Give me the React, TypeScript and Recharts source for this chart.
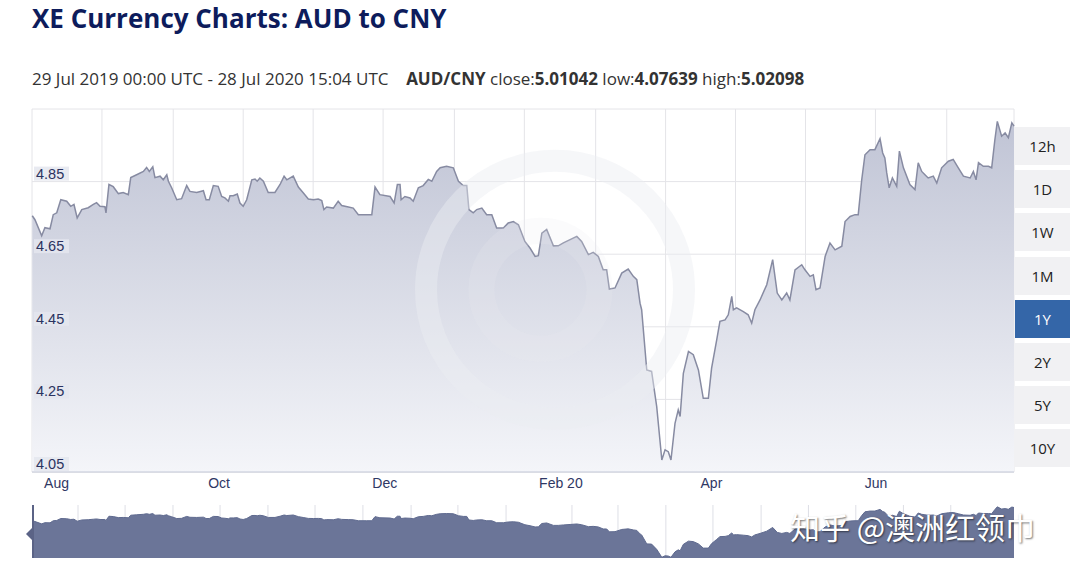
import React from 'react';
import { AreaChart, Area, XAxis, YAxis, CartesianGrid, ReferenceDot } from 'recharts';

// days since 29 Jul 2019
const dayOffsets = [
  0.1, 1.1, 3.6, 4.8, 6.7, 7.9, 9.2, 10.7, 12.9, 14.4, 15.6, 16.8, 18.5, 20.9, 22.8, 24.0, 25.3, 27.1, 27.5, 28.6,
  30.2, 32.1, 33.9, 35.8, 36.7, 38.9, 41.4, 42.6, 43.6, 44.9, 45.7, 47.6, 48.8, 50.1, 50.7, 51.9, 53.8, 55.6, 57.5, 58.7,
  61.2, 63.7, 64.7, 65.9, 67.4, 69.2, 70.5, 71.7, 73.0, 73.6, 74.8, 76.3, 77.3, 78.5, 79.8, 81.7, 82.9, 83.7, 84.7, 86.0,
  87.8, 90.3, 92.2, 93.7, 94.7, 97.1, 99.0, 100.8, 102.7, 104.6, 106.4, 107.7, 108.5, 109.5, 112.0, 113.8, 115.1, 117.6, 119.4, 121.3,
  124.4, 126.3, 127.5, 129.3, 133.1, 134.6, 135.8, 136.8, 137.2, 138.6, 140.5, 141.7, 143.6, 145.4, 147.3, 148.6, 150.4, 151.7, 154.1, 156.6,
  158.5, 160.3, 161.6, 162.4, 164.0, 165.3, 167.2, 169.0, 170.9, 172.7, 175.2, 177.0, 178.9, 180.8, 183.2, 185.1, 187.0, 188.2, 189.5, 191.3,
  193.8, 195.6, 197.5, 200.0, 202.5, 204.3, 206.8, 208.6, 210.5, 212.3, 213.6, 214.6, 216.7, 219.2, 221.6, 223.5, 224.8, 226.0, 226.6, 228.5,
  230.3, 232.2, 234.1, 235.3, 236.5, 237.5, 239.0, 240.2, 240.9, 242.1, 244.0, 245.8, 247.7, 249.5, 251.4, 252.6, 254.5, 255.7, 257.6, 258.8,
  260.1, 260.7, 261.9, 264.4, 266.2, 267.5, 268.7, 270.6, 273.1, 275.3, 277.0, 278.7, 280.5, 281.7, 283.6, 286.1, 287.3, 289.2, 290.4, 291.4,
  292.9, 294.8, 296.6, 298.5, 301.0, 302.2, 304.1, 305.9, 307.1, 308.4, 309.6, 311.5, 313.3, 315.2, 316.2, 317.0, 317.7, 318.6, 319.8, 321.4,
  322.4, 323.9, 326.3, 328.2, 329.4, 330.7, 331.9, 333.1, 335.0, 336.3, 338.1, 340.6, 342.4, 344.3, 346.2, 348.7, 349.9, 350.9, 351.8, 353.6,
  355.5, 356.7, 357.9, 358.8, 360.4, 361.7, 362.9, 364.2, 365.0,
];

const audCny = [
  4.756, 4.745, 4.701, 4.723, 4.720, 4.759, 4.764, 4.800, 4.796, 4.782, 4.787, 4.750, 4.773, 4.778, 4.787, 4.792, 4.782, 4.781, 4.764, 4.842,
  4.836, 4.817, 4.820, 4.814, 4.861, 4.869, 4.878, 4.889, 4.878, 4.891, 4.861, 4.865, 4.855, 4.869, 4.851, 4.833, 4.800, 4.803, 4.839, 4.823,
  4.820, 4.825, 4.800, 4.800, 4.839, 4.837, 4.809, 4.805, 4.796, 4.811, 4.811, 4.816, 4.791, 4.782, 4.800, 4.855, 4.857, 4.851, 4.860, 4.851,
  4.820, 4.820, 4.842, 4.865, 4.855, 4.865, 4.835, 4.819, 4.802, 4.800, 4.802, 4.798, 4.773, 4.780, 4.777, 4.796, 4.784, 4.780, 4.777, 4.759,
  4.759, 4.759, 4.835, 4.814, 4.809, 4.791, 4.842, 4.842, 4.800, 4.809, 4.805, 4.796, 4.833, 4.839, 4.856, 4.851, 4.878, 4.888, 4.892, 4.888,
  4.851, 4.839, 4.839, 4.773, 4.764, 4.773, 4.777, 4.759, 4.759, 4.722, 4.722, 4.736, 4.740, 4.731, 4.685, 4.667, 4.644, 4.646, 4.708, 4.718,
  4.673, 4.673, 4.681, 4.690, 4.699, 4.685, 4.649, 4.655, 4.644, 4.607, 4.607, 4.554, 4.557, 4.598, 4.609, 4.589, 4.580, 4.515, 4.497, 4.331,
  4.327, 4.230, 4.083, 4.111, 4.106, 4.083, 4.184, 4.221, 4.203, 4.322, 4.382, 4.373, 4.331, 4.253, 4.253, 4.336, 4.414, 4.465, 4.469, 4.483,
  4.534, 4.497, 4.502, 4.492, 4.483, 4.460, 4.497, 4.524, 4.566, 4.635, 4.543, 4.524, 4.543, 4.524, 4.607, 4.621, 4.607, 4.589, 4.593, 4.552,
  4.557, 4.644, 4.681, 4.662, 4.672, 4.740, 4.754, 4.759, 4.759, 4.855, 4.924, 4.938, 4.938, 4.968, 4.929, 4.915, 4.874, 4.833, 4.860, 4.837,
  4.934, 4.888, 4.842, 4.828, 4.902, 4.878, 4.869, 4.860, 4.865, 4.846, 4.888, 4.906, 4.911, 4.888, 4.865, 4.860, 4.878, 4.855, 4.902, 4.892,
  4.892, 4.888, 4.966, 5.016, 4.975, 4.984, 4.971, 5.012, 5.003,
];

const monthTicks = [3, 64, 125, 187, 247, 308];
const monthLabels = ['Aug', 'Oct', 'Dec', 'Feb 20', 'Apr', 'Jun'];
const rateTicks = [4.05, 4.25, 4.45, 4.65, 4.85];
const gridDays = [0, 26, 52.5, 78.5, 104.5, 130.5, 157, 183, 209.5, 235.5, 261.5, 287.5, 313.5, 340, 365];
const navGridDays = [17.1, 34.6, 52.4, 69.9, 87.7, 105.2, 123, 140.9, 158.3, 176.2, 200.7, 217.8, 235.6, 253.1, 271, 288.6, 306.2, 323.9, 341.5];
const rangeButtons = ['12h', '1D', '1W', '1M', '1Y', '2Y', '5Y', '10Y'];
const activeRange = '1Y';

const data = dayOffsets.map((day, i) => ({ day, rate: audCny[i] }));

const axisFont = '"Liberation Sans", Arial, Helvetica, sans-serif';
const uiFont = '"Open Sans", "Noto Sans", sans-serif';

const RateTick = (props: any) => {
  const { x, y, payload } = props;
  return (
    <g>
      <rect x={x + 2} y={y - 15} width={35} height={14} fill="#e4e6ef" fillOpacity={0.85} />
      <text x={x + 4} y={y - 3} fill="#2b3360" fontSize={14.5} fontFamily={axisFont}>
        {payload.value.toFixed(2)}
      </text>
    </g>
  );
};

const MonthTick = (props: any) => {
  const { x, y, payload } = props;
  const label = monthLabels[monthTicks.indexOf(payload.value)];
  return (
    <text x={x + 4} y={y + 16} fill="#2f3764" fontSize={14} fontFamily={axisFont}>
      {label}
    </text>
  );
};

export default function App() {
  return (
    <div style={{ position: 'absolute', left: 0, top: 0, width: 1080, height: 574, background: '#fff', overflow: 'hidden' }}>
      <div style={{ position: 'absolute', left: 32, top: 0, fontFamily: uiFont, fontWeight: 700, fontSize: 26, color: '#0d1c5c', whiteSpace: 'nowrap', lineHeight: '36px' }}>
        XE Currency Charts: AUD to CNY
      </div>
      <div style={{ position: 'absolute', left: 32, top: 67, fontFamily: uiFont, fontSize: 17, color: '#333', whiteSpace: 'pre', lineHeight: '24px' }}>
        {'29 Jul 2019 00:00 UTC - 28 Jul 2020 15:04 UTC    '}
        <b>AUD/CNY</b>{' close:'}<b>5.01042</b>{' low:'}<b>4.07639</b>{' high:'}<b>5.02098</b>
      </div>

      <div style={{ position: 'absolute', left: 0, top: 100 }}>
        <AreaChart width={1080} height={400} data={data} margin={{ top: 9, right: 66, bottom: 0, left: 32 }}>
          <defs>
            <linearGradient id="rateFill" x1="0" y1="0" x2="0" y2="1">
              <stop offset="0%" stopColor="#c0c4d5" />
              <stop offset="100%" stopColor="#f4f5f9" />
            </linearGradient>
          </defs>
          <CartesianGrid stroke="#e4e4e8" horizontalValues={[...rateTicks, 5.05]} verticalValues={gridDays} />
          <XAxis
            type="number"
            dataKey="day"
            domain={[0, 365]}
            ticks={monthTicks}
            tick={<MonthTick />}
            tickLine={false}
            tickSize={0}
            tickMargin={0}
            axisLine={{ stroke: '#c3c7d6' }}
            height={28}
            interval={0}
          />
          <YAxis
            type="number"
            domain={[4.05, 5.05]}
            ticks={rateTicks}
            tick={<RateTick />}
            mirror
            tickLine={false}
            tickSize={0}
            tickMargin={0}
            axisLine={false}
            interval={0}
          />
          <Area
            type="linear"
            dataKey="rate"
            stroke="#878ba2"
            strokeWidth={1.5}
            fill="url(#rateFill)"
            fillOpacity={1}
            isAnimationActive={false}
            dot={false}
            activeDot={false}
          />
          {/* faint xe watermark */}
          <ReferenceDot x={194.4} y={4.552} r={129} fill="none" stroke="#ecedf2" strokeOpacity={0.45} strokeWidth={22} ifOverflow="visible" />
          <ReferenceDot x={189} y={4.552} r={59} fill="none" stroke="#ecedf2" strokeOpacity={0.2} strokeWidth={26} ifOverflow="visible" />
        </AreaChart>
      </div>

      <div style={{ position: 'absolute', left: 0, top: 505 }}>
        <AreaChart width={1080} height={53} data={data} margin={{ top: 0, right: 66, bottom: 0, left: 32 }}>
          <CartesianGrid stroke="#dedfe6" horizontalValues={[5.05]} verticalValues={navGridDays} />
          <XAxis type="number" dataKey="day" domain={[0, 365]} hide />
          <YAxis type="number" domain={[4.07, 5.05]} hide />
          <Area
            type="linear"
            dataKey="rate"
            stroke="#5f6a8f"
            strokeWidth={1}
            fill="#6b7598"
            fillOpacity={1}
            isAnimationActive={false}
            dot={false}
            activeDot={false}
          />
        </AreaChart>
      </div>
      <div style={{ position: 'absolute', left: 32, top: 505, width: 2, height: 53, background: '#5b6386' }} />
      <div style={{ position: 'absolute', left: 26, top: 527, width: 0, height: 0, borderTop: '7px solid transparent', borderBottom: '7px solid transparent', borderRight: '7px solid #5b6386' }} />

      {rangeButtons.map((label, i) => {
        const active = label === activeRange;
        return (
          <div
            key={label}
            style={{
              position: 'absolute',
              left: 1015,
              top: 127 + i * 43.2,
              width: 55,
              height: 38,
              background: active ? '#3466a8' : '#f1f1f3',
              color: active ? '#fff' : '#222',
              fontFamily: uiFont,
              fontSize: 15,
              display: 'flex',
              alignItems: 'center',
              justifyContent: 'center',
            }}
          >
            {label}
          </div>
        );
      })}

      <div style={{ position: 'absolute', left: 790, top: 506, fontFamily: '"Noto Sans CJK SC", sans-serif', fontSize: 30, color: '#fff', whiteSpace: 'nowrap', textShadow: '1px 1px 2px rgba(0,0,0,0.55)', lineHeight: '40px' }}>
        知乎 @澳洲红领巾
      </div>
    </div>
  );
}
